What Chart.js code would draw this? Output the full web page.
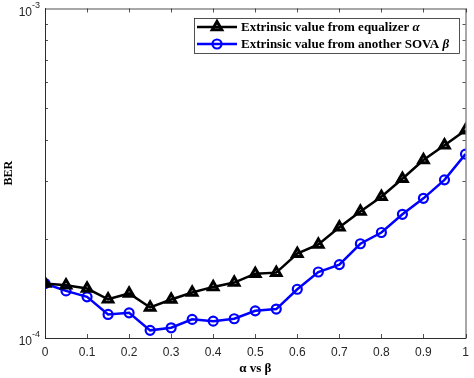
<!DOCTYPE html>
<html>
<head>
<meta charset="utf-8">
<script src="https://cdn.jsdelivr.net/npm/chart.js@4/dist/chart.umd.min.js"></script>
<style>
  html, body { margin: 0; padding: 0; background: #fff; }
  #wrap { width: 474px; height: 378px; position: relative; }
</style>
</head>
<body>
<div id="wrap"><canvas id="c" width="474" height="378"></canvas></div>
<script>
const xValues = [0, 0.05, 0.1, 0.15, 0.2, 0.25, 0.3, 0.35, 0.4, 0.45, 0.5, 0.55, 0.6, 0.65, 0.7, 0.75, 0.8, 0.85, 0.9, 0.95, 1.0];
const berEqualizer = [1.463e-4, 1.446e-4, 1.413e-4, 1.311e-4, 1.365e-4, 1.238e-4, 1.309e-4, 1.374e-4, 1.429e-4, 1.473e-4, 1.568e-4, 1.579e-4, 1.803e-4, 1.923e-4, 2.169e-4, 2.419e-4, 2.685e-4, 3.043e-4, 3.467e-4, 3.848e-4, 4.272e-4];
const berSova = [1.463e-4, 1.390e-4, 1.333e-4, 1.179e-4, 1.192e-4, 1.055e-4, 1.074e-4, 1.139e-4, 1.125e-4, 1.144e-4, 1.209e-4, 1.224e-4, 1.406e-4, 1.586e-4, 1.670e-4, 1.932e-4, 2.090e-4, 2.374e-4, 2.654e-4, 3.020e-4, 3.614e-4];
const seriesNames = ['Extrinsic value from equalizer α', 'Extrinsic value from another SOVA β'];
const xTitle = 'α vs β';
const yTitle = 'BER';
const yMajorTicks = [1e-4, 1e-3];
const yMajorLabels = [['10', '-4'], ['10', '-3']];
const yMinorTicks = [2e-4, 3e-4, 4e-4, 5e-4, 6e-4, 7e-4, 8e-4, 9e-4];
const xMajorTicks = [0, 0.1, 0.2, 0.3, 0.4, 0.5, 0.6, 0.7, 0.8, 0.9, 1];

const axisColor = '#262626';

const boxPlugin = {
  id: 'boxTicks',
  afterDatasetsDraw(chart) {
    const ctx = chart.ctx;
    const a = chart.chartArea;
    const xs = chart.scales.x, ys = chart.scales.y;
    ctx.save();
    ctx.strokeStyle = axisColor;
    ctx.lineWidth = 0.8;
    ctx.strokeRect(a.left + 0.5, a.top + 0.5, a.right - a.left, a.bottom - a.top);
    ctx.beginPath();
    xMajorTicks.forEach(v => {
      const px = Math.round(xs.getPixelForValue(v)) + 0.5;
      ctx.moveTo(px, a.bottom); ctx.lineTo(px, a.bottom - 4);
      ctx.moveTo(px, a.top); ctx.lineTo(px, a.top + 4);
    });
    yMinorTicks.forEach(v => {
      const py = Math.round(ys.getPixelForValue(v)) + 0.5;
      ctx.moveTo(a.left, py); ctx.lineTo(a.left + 3, py);
      ctx.moveTo(a.right, py); ctx.lineTo(a.right - 3, py);
    });
    ctx.stroke();
    // y tick labels with superscript exponents
    ctx.fillStyle = axisColor;
    ctx.textBaseline = 'middle';
    yMajorTicks.forEach((v, i) => {
      const py = ys.getPixelForValue(v);
      const [base, exp] = yMajorLabels[i];
      ctx.font = '12px "Liberation Sans"';
      ctx.textAlign = 'right';
      ctx.fillText(base, a.left - 13, py + 4);
      ctx.font = '9px "Liberation Sans"';
      ctx.textAlign = 'left';
      ctx.fillText(exp, a.left - 13, py - 3);
    });
    ctx.restore();
  }
};

const legendPlugin = {
  id: 'innerLegend',
  afterDraw(chart) {
    const ctx = chart.ctx;
    const x0 = 194, y0 = 18, w = 265, h = 35;
    ctx.save();
    ctx.fillStyle = '#fff';
    ctx.fillRect(x0, y0, w, h);
    ctx.strokeStyle = '#262626';
    ctx.lineWidth = 0.8;
    ctx.strokeRect(x0 + 0.5, y0 + 0.5, w, h);
    chart.data.datasets.forEach((ds, i) => {
      const yy = y0 + 9 + i * 17;
      ctx.strokeStyle = ds.borderColor;
      ctx.lineWidth = ds.borderWidth;
      ctx.beginPath();
      ctx.moveTo(x0 + 3, yy); ctx.lineTo(x0 + 43, yy);
      ctx.stroke();
      ctx.lineWidth = ds.pointBorderWidth;
      ctx.fillStyle = 'rgba(0,0,0,0)';
      Chart.helpers.drawPoint(ctx, {
        pointStyle: ds.pointStyle, radius: ds.pointRadius, borderWidth: ds.pointBorderWidth
      }, x0 + 23, yy);
      const label = ds.label;
      const main = label.slice(0, -1);
      const greek = label.slice(-1);
      ctx.fillStyle = '#000';
      ctx.textBaseline = 'middle';
      ctx.textAlign = 'left';
      ctx.font = 'bold 13px "Liberation Serif"';
      ctx.fillText(main, x0 + 47, yy + 0.5);
      const mw = ctx.measureText(main).width;
      ctx.font = 'italic bold 13px "Liberation Serif"';
      ctx.fillText(greek, x0 + 47 + mw, yy + 0.5);
    });
    ctx.restore();
  }
};

new Chart(document.getElementById('c'), {
  type: 'line',
  data: {
    datasets: [
      {
        label: seriesNames[0],
        data: xValues.map((x, i) => ({ x: x, y: berEqualizer[i] })),
        borderColor: '#000000',
        backgroundColor: 'rgba(0,0,0,0)',
        pointBackgroundColor: 'rgba(0,0,0,0)',
        borderWidth: 2.5,
        pointStyle: 'triangle',
        pointRadius: 5.5,
        pointBorderWidth: 3,
        tension: 0
      },
      {
        label: seriesNames[1],
        data: xValues.map((x, i) => ({ x: x, y: berSova[i] })),
        borderColor: '#0000ff',
        backgroundColor: 'rgba(0,0,0,0)',
        pointBackgroundColor: 'rgba(0,0,0,0)',
        borderWidth: 2.5,
        pointStyle: 'circle',
        pointRadius: 4.5,
        pointBorderWidth: 2.2,
        tension: 0
      }
    ]
  },
  options: {
    responsive: false,
    animation: false,
    layout: { padding: { top: 7, right: 8, left: 0, bottom: 0 } },
    plugins: {
      legend: { display: false },
      tooltip: { enabled: false }
    },
    scales: {
      x: {
        type: 'linear',
        min: 0, max: 1,
        grid: { display: false, drawTicks: false },
        border: { display: true, color: axisColor, width: 0.8 },
        ticks: {
          stepSize: 0.1,
          padding: 7,
          color: axisColor,
          font: { family: '"Liberation Sans"', size: 12 },
          maxRotation: 0,
          callback: v => String(Math.round(v * 10) / 10)
        },
        title: {
          display: true, text: xTitle, color: '#000',
          font: { family: '"Liberation Serif"', size: 13, weight: 'bold' },
          padding: { top: 0, bottom: 2 }
        },
        afterFit: s => { s.height = 40; s.paddingRight = 0; s.paddingLeft = 0; }
      },
      y: {
        type: 'logarithmic',
        min: 1e-4, max: 1e-3,
        grid: { display: false, drawTicks: false },
        border: { display: true, color: axisColor, width: 0.8 },
        ticks: {
          autoSkip: false,
          callback: () => ''
        },
        title: {
          display: true, text: yTitle, color: '#000',
          font: { family: '"Liberation Serif"', size: 12, weight: 'bold' },
          padding: { top: 2, bottom: 0 }
        },
        afterFit: s => { s.width = 45; s.paddingTop = 0; s.paddingBottom = 0; }
      }
    }
  },
  plugins: [boxPlugin, legendPlugin]
});
</script>
</body>
</html>
